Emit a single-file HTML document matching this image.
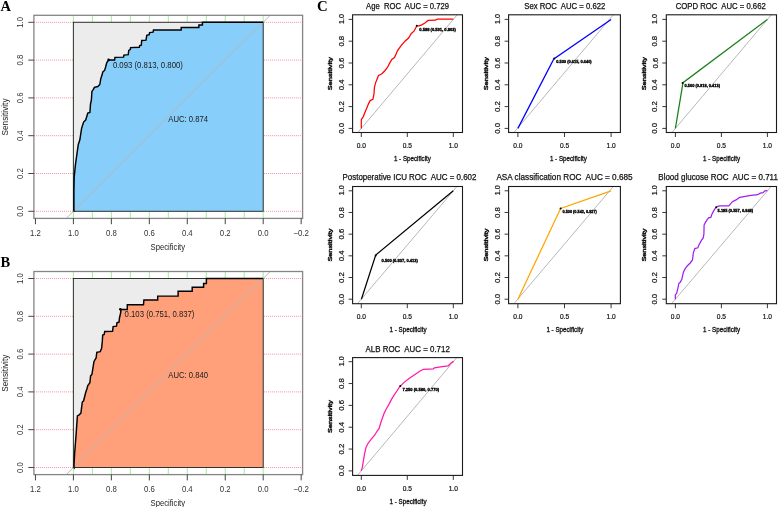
<!DOCTYPE html>
<html><head><meta charset="utf-8"><style>
html,body{margin:0;padding:0;background:#fff;}
body{width:778px;height:507px;overflow:hidden;}
svg{display:block;will-change:transform;}
text{font-family:"Liberation Sans", sans-serif;white-space:pre;}
</style></head><body>
<svg width="778" height="507" viewBox="0 0 778 507">
<rect width="778" height="507" fill="#fff"/>
<text x="0.6" y="10.9" font-size="14.5" font-weight="bold" fill="#000" style="font-family:'Liberation Serif', serif">A</text>
<line x1="33.9" y1="211.3" x2="302.6" y2="211.3" stroke="#f490a0" stroke-width="1" stroke-dasharray="1 1"/>
<line x1="33.9" y1="173.5" x2="302.6" y2="173.5" stroke="#f490a0" stroke-width="1" stroke-dasharray="1 1"/>
<line x1="33.9" y1="135.7" x2="302.6" y2="135.7" stroke="#f490a0" stroke-width="1" stroke-dasharray="1 1"/>
<line x1="33.9" y1="97.9" x2="302.6" y2="97.9" stroke="#f490a0" stroke-width="1" stroke-dasharray="1 1"/>
<line x1="33.9" y1="60.1" x2="302.6" y2="60.1" stroke="#f490a0" stroke-width="1" stroke-dasharray="1 1"/>
<line x1="33.9" y1="22.3" x2="302.6" y2="22.3" stroke="#f490a0" stroke-width="1" stroke-dasharray="1 1"/>
<line x1="263.2" y1="15.3" x2="263.2" y2="218.4" stroke="#98e898" stroke-width="0.9"/>
<line x1="244.22" y1="15.3" x2="244.22" y2="218.4" stroke="#98e898" stroke-width="0.9"/>
<line x1="225.24" y1="15.3" x2="225.24" y2="218.4" stroke="#98e898" stroke-width="0.9"/>
<line x1="206.26" y1="15.3" x2="206.26" y2="218.4" stroke="#98e898" stroke-width="0.9"/>
<line x1="187.28" y1="15.3" x2="187.28" y2="218.4" stroke="#98e898" stroke-width="0.9"/>
<line x1="168.3" y1="15.3" x2="168.3" y2="218.4" stroke="#98e898" stroke-width="0.9"/>
<line x1="149.32" y1="15.3" x2="149.32" y2="218.4" stroke="#98e898" stroke-width="0.9"/>
<line x1="130.34" y1="15.3" x2="130.34" y2="218.4" stroke="#98e898" stroke-width="0.9"/>
<line x1="111.36" y1="15.3" x2="111.36" y2="218.4" stroke="#98e898" stroke-width="0.9"/>
<line x1="92.38" y1="15.3" x2="92.38" y2="218.4" stroke="#98e898" stroke-width="0.9"/>
<line x1="73.4" y1="15.3" x2="73.4" y2="218.4" stroke="#98e898" stroke-width="0.9"/>
<rect x="73.4" y="22.3" width="189.8" height="189" fill="#ececec"/>
<polygon points="73.4,211.3 73.9,211.3 73.9,191.8 74.2,177 75.4,165.1 76.8,154.8 78.3,144.4 79.8,140 81.6,128.3 83.6,122.1 85.7,120 87.8,113.1 89.9,112.5 90.5,104.2 91.4,100 91.9,91.4 93.4,89.4 94.4,87.4 97.8,86.5 99.8,84.5 100.8,78.6 102.2,74.6 102.7,72.2 104.7,70.2 105.7,66.7 106.7,62.8 108.6,59.9 114.6,59.9 115,57.4 123.5,57.1 123.9,55.1 128.3,54.7 128.7,50.4 130.3,49.6 130.6,47.6 139.3,47.2 139.7,45.6 141.3,45.2 141.7,40.5 146,40.1 146.8,35.4 149.2,34.6 149.6,32.6 153.1,32.2 153.5,29.9 181.2,29.9 181.2,27.4 198.9,27.4 198.9,24.9 202.4,24.9 202.4,22.3 263.2,22.3 263.2,211.3" fill="#87cefa"/>
<rect x="73.4" y="22.3" width="189.8" height="189" fill="none" stroke="#333" stroke-width="1"/>
<line x1="66.27" y1="218.4" x2="270.23" y2="15.3" stroke="#b8b8b8" stroke-width="1"/>
<polyline points="73.8,211.3 73.9,211.3 73.9,191.8 74.2,177 75.4,165.1 76.8,154.8 78.3,144.4 79.8,140 81.6,128.3 83.6,122.1 85.7,120 87.8,113.1 89.9,112.5 90.5,104.2 91.4,100 91.9,91.4 93.4,89.4 94.4,87.4 97.8,86.5 99.8,84.5 100.8,78.6 102.2,74.6 102.7,72.2 104.7,70.2 105.7,66.7 106.7,62.8 108.6,59.9 114.6,59.9 115,57.4 123.5,57.1 123.9,55.1 128.3,54.7 128.7,50.4 130.3,49.6 130.6,47.6 139.3,47.2 139.7,45.6 141.3,45.2 141.7,40.5 146,40.1 146.8,35.4 149.2,34.6 149.6,32.6 153.1,32.2 153.5,29.9 181.2,29.9 181.2,27.4 198.9,27.4 198.9,24.9 202.4,24.9 202.4,22.3 263.2,22.3" fill="none" stroke="#000" stroke-width="1.45" stroke-linejoin="miter"/>
<circle cx="108.6" cy="59.9" r="1.3" fill="#000"/>
<rect x="33.9" y="15.3" width="268.7" height="203.1" fill="none" stroke="#858585" stroke-width="1.3"/>
<line x1="35.44" y1="218.4" x2="35.44" y2="224.2" stroke="#444" stroke-width="1"/>
<text x="35.44" y="236.2" font-size="8.6" text-anchor="middle" fill="#333" font-weight="normal" textLength="10.8" lengthAdjust="spacingAndGlyphs"  style="font-family:'Liberation Sans', sans-serif">1.2</text>
<line x1="73.4" y1="218.4" x2="73.4" y2="224.2" stroke="#444" stroke-width="1"/>
<text x="73.4" y="236.2" font-size="8.6" text-anchor="middle" fill="#333" font-weight="normal" textLength="10.8" lengthAdjust="spacingAndGlyphs"  style="font-family:'Liberation Sans', sans-serif">1.0</text>
<line x1="111.36" y1="218.4" x2="111.36" y2="224.2" stroke="#444" stroke-width="1"/>
<text x="111.36" y="236.2" font-size="8.6" text-anchor="middle" fill="#333" font-weight="normal" textLength="10.8" lengthAdjust="spacingAndGlyphs"  style="font-family:'Liberation Sans', sans-serif">0.8</text>
<line x1="149.32" y1="218.4" x2="149.32" y2="224.2" stroke="#444" stroke-width="1"/>
<text x="149.32" y="236.2" font-size="8.6" text-anchor="middle" fill="#333" font-weight="normal" textLength="10.8" lengthAdjust="spacingAndGlyphs"  style="font-family:'Liberation Sans', sans-serif">0.6</text>
<line x1="187.28" y1="218.4" x2="187.28" y2="224.2" stroke="#444" stroke-width="1"/>
<text x="187.28" y="236.2" font-size="8.6" text-anchor="middle" fill="#333" font-weight="normal" textLength="10.8" lengthAdjust="spacingAndGlyphs"  style="font-family:'Liberation Sans', sans-serif">0.4</text>
<line x1="225.24" y1="218.4" x2="225.24" y2="224.2" stroke="#444" stroke-width="1"/>
<text x="225.24" y="236.2" font-size="8.6" text-anchor="middle" fill="#333" font-weight="normal" textLength="10.8" lengthAdjust="spacingAndGlyphs"  style="font-family:'Liberation Sans', sans-serif">0.2</text>
<line x1="263.2" y1="218.4" x2="263.2" y2="224.2" stroke="#444" stroke-width="1"/>
<text x="263.2" y="236.2" font-size="8.6" text-anchor="middle" fill="#333" font-weight="normal" textLength="10.8" lengthAdjust="spacingAndGlyphs"  style="font-family:'Liberation Sans', sans-serif">0.0</text>
<line x1="301.16" y1="218.4" x2="301.16" y2="224.2" stroke="#444" stroke-width="1"/>
<text x="301.16" y="236.2" font-size="8.6" text-anchor="middle" fill="#333" font-weight="normal" textLength="15.6" lengthAdjust="spacingAndGlyphs"  style="font-family:'Liberation Sans', sans-serif">−0.2</text>
<line x1="28.3" y1="211.3" x2="33.9" y2="211.3" stroke="#444" stroke-width="1"/>
<text x="23.3" y="211.3" font-size="8.6" text-anchor="middle" fill="#333" font-weight="normal" transform="rotate(-90 23.3 211.3)" textLength="10.8" lengthAdjust="spacingAndGlyphs"  style="font-family:'Liberation Sans', sans-serif">0.0</text>
<line x1="28.3" y1="173.5" x2="33.9" y2="173.5" stroke="#444" stroke-width="1"/>
<text x="23.3" y="173.5" font-size="8.6" text-anchor="middle" fill="#333" font-weight="normal" transform="rotate(-90 23.3 173.5)" textLength="10.8" lengthAdjust="spacingAndGlyphs"  style="font-family:'Liberation Sans', sans-serif">0.2</text>
<line x1="28.3" y1="135.7" x2="33.9" y2="135.7" stroke="#444" stroke-width="1"/>
<text x="23.3" y="135.7" font-size="8.6" text-anchor="middle" fill="#333" font-weight="normal" transform="rotate(-90 23.3 135.7)" textLength="10.8" lengthAdjust="spacingAndGlyphs"  style="font-family:'Liberation Sans', sans-serif">0.4</text>
<line x1="28.3" y1="97.9" x2="33.9" y2="97.9" stroke="#444" stroke-width="1"/>
<text x="23.3" y="97.9" font-size="8.6" text-anchor="middle" fill="#333" font-weight="normal" transform="rotate(-90 23.3 97.9)" textLength="10.8" lengthAdjust="spacingAndGlyphs"  style="font-family:'Liberation Sans', sans-serif">0.6</text>
<line x1="28.3" y1="60.1" x2="33.9" y2="60.1" stroke="#444" stroke-width="1"/>
<text x="23.3" y="60.1" font-size="8.6" text-anchor="middle" fill="#333" font-weight="normal" transform="rotate(-90 23.3 60.1)" textLength="10.8" lengthAdjust="spacingAndGlyphs"  style="font-family:'Liberation Sans', sans-serif">0.8</text>
<line x1="28.3" y1="22.3" x2="33.9" y2="22.3" stroke="#444" stroke-width="1"/>
<text x="23.3" y="22.3" font-size="8.6" text-anchor="middle" fill="#333" font-weight="normal" transform="rotate(-90 23.3 22.3)" textLength="10.8" lengthAdjust="spacingAndGlyphs"  style="font-family:'Liberation Sans', sans-serif">1.0</text>
<text x="167.8" y="249.9" font-size="8.4" text-anchor="middle" fill="#222" font-weight="normal" textLength="34.5" lengthAdjust="spacingAndGlyphs"  style="font-family:'Liberation Sans', sans-serif">Specificity</text>
<text x="7.9" y="117" font-size="8.4" text-anchor="middle" fill="#222" font-weight="normal" transform="rotate(-90 7.9 117)" textLength="37" lengthAdjust="spacingAndGlyphs"  style="font-family:'Liberation Sans', sans-serif">Sensitivity</text>
<text x="112.9" y="67.6" font-size="8.5" text-anchor="start" fill="#1a1a1a" font-weight="normal" textLength="70" lengthAdjust="spacingAndGlyphs"  style="font-family:'Liberation Sans', sans-serif">0.093 (0.813, 0.800)</text>
<text x="168.3" y="122.1" font-size="8.5" text-anchor="start" fill="#1a1a1a" font-weight="normal" textLength="39.8" lengthAdjust="spacingAndGlyphs"  style="font-family:'Liberation Sans', sans-serif">AUC: 0.874</text>
<text x="0.6" y="267.1" font-size="14.5" font-weight="bold" fill="#000" style="font-family:'Liberation Serif', serif">B</text>
<line x1="33.9" y1="467.5" x2="302.6" y2="467.5" stroke="#f490a0" stroke-width="1" stroke-dasharray="1 1"/>
<line x1="33.9" y1="429.7" x2="302.6" y2="429.7" stroke="#f490a0" stroke-width="1" stroke-dasharray="1 1"/>
<line x1="33.9" y1="391.9" x2="302.6" y2="391.9" stroke="#f490a0" stroke-width="1" stroke-dasharray="1 1"/>
<line x1="33.9" y1="354.1" x2="302.6" y2="354.1" stroke="#f490a0" stroke-width="1" stroke-dasharray="1 1"/>
<line x1="33.9" y1="316.3" x2="302.6" y2="316.3" stroke="#f490a0" stroke-width="1" stroke-dasharray="1 1"/>
<line x1="33.9" y1="278.5" x2="302.6" y2="278.5" stroke="#f490a0" stroke-width="1" stroke-dasharray="1 1"/>
<line x1="263.2" y1="271.5" x2="263.2" y2="474.6" stroke="#98e898" stroke-width="0.9"/>
<line x1="244.22" y1="271.5" x2="244.22" y2="474.6" stroke="#98e898" stroke-width="0.9"/>
<line x1="225.24" y1="271.5" x2="225.24" y2="474.6" stroke="#98e898" stroke-width="0.9"/>
<line x1="206.26" y1="271.5" x2="206.26" y2="474.6" stroke="#98e898" stroke-width="0.9"/>
<line x1="187.28" y1="271.5" x2="187.28" y2="474.6" stroke="#98e898" stroke-width="0.9"/>
<line x1="168.3" y1="271.5" x2="168.3" y2="474.6" stroke="#98e898" stroke-width="0.9"/>
<line x1="149.32" y1="271.5" x2="149.32" y2="474.6" stroke="#98e898" stroke-width="0.9"/>
<line x1="130.34" y1="271.5" x2="130.34" y2="474.6" stroke="#98e898" stroke-width="0.9"/>
<line x1="111.36" y1="271.5" x2="111.36" y2="474.6" stroke="#98e898" stroke-width="0.9"/>
<line x1="92.38" y1="271.5" x2="92.38" y2="474.6" stroke="#98e898" stroke-width="0.9"/>
<line x1="73.4" y1="271.5" x2="73.4" y2="474.6" stroke="#98e898" stroke-width="0.9"/>
<rect x="73.4" y="278.5" width="189.8" height="189" fill="#ececec"/>
<polygon points="73.4,467.5 74,467.7 74,465 74.7,452.5 76,435.9 77.4,415.9 78.8,415.2 80.9,413.1 82.3,402 83.6,400.8 85.7,392.5 87.1,388.3 87.8,385.6 89.9,382.8 90.6,375.9 91.9,374.5 94,361.4 96.1,358 96.8,352.4 100.2,351.7 101.6,348.3 102.3,341.4 102.7,335 104.2,334.5 104.7,331.5 112.6,331.3 113.1,326.6 116.5,326.1 117,322.7 119,322.2 119.5,317.7 120.5,313.8 121,309.4 127.3,309.4 127.3,304.7 143.5,304.7 143.9,299.9 157.7,299.9 157.7,296.1 178.1,296.1 178.1,291.2 192.2,291.2 192.2,287.3 203.6,287.3 203.6,283.4 206.4,283.4 206.4,278.5 263.2,278.5 263.2,467.5" fill="#ffa07a"/>
<rect x="73.4" y="278.5" width="189.8" height="189" fill="none" stroke="#333" stroke-width="1"/>
<line x1="66.27" y1="474.6" x2="270.23" y2="271.5" stroke="#b8b8b8" stroke-width="1"/>
<polyline points="73.8,467.5 74,467.7 74,465 74.7,452.5 76,435.9 77.4,415.9 78.8,415.2 80.9,413.1 82.3,402 83.6,400.8 85.7,392.5 87.1,388.3 87.8,385.6 89.9,382.8 90.6,375.9 91.9,374.5 94,361.4 96.1,358 96.8,352.4 100.2,351.7 101.6,348.3 102.3,341.4 102.7,335 104.2,334.5 104.7,331.5 112.6,331.3 113.1,326.6 116.5,326.1 117,322.7 119,322.2 119.5,317.7 120.5,313.8 121,309.4 127.3,309.4 127.3,304.7 143.5,304.7 143.9,299.9 157.7,299.9 157.7,296.1 178.1,296.1 178.1,291.2 192.2,291.2 192.2,287.3 203.6,287.3 203.6,283.4 206.4,283.4 206.4,278.5 263.2,278.5" fill="none" stroke="#000" stroke-width="1.45" stroke-linejoin="miter"/>
<circle cx="120.3" cy="309.2" r="1.3" fill="#000"/>
<rect x="33.9" y="271.5" width="268.7" height="203.1" fill="none" stroke="#858585" stroke-width="1.3"/>
<line x1="35.44" y1="474.6" x2="35.44" y2="480.4" stroke="#444" stroke-width="1"/>
<text x="35.44" y="492.4" font-size="8.6" text-anchor="middle" fill="#333" font-weight="normal" textLength="10.8" lengthAdjust="spacingAndGlyphs"  style="font-family:'Liberation Sans', sans-serif">1.2</text>
<line x1="73.4" y1="474.6" x2="73.4" y2="480.4" stroke="#444" stroke-width="1"/>
<text x="73.4" y="492.4" font-size="8.6" text-anchor="middle" fill="#333" font-weight="normal" textLength="10.8" lengthAdjust="spacingAndGlyphs"  style="font-family:'Liberation Sans', sans-serif">1.0</text>
<line x1="111.36" y1="474.6" x2="111.36" y2="480.4" stroke="#444" stroke-width="1"/>
<text x="111.36" y="492.4" font-size="8.6" text-anchor="middle" fill="#333" font-weight="normal" textLength="10.8" lengthAdjust="spacingAndGlyphs"  style="font-family:'Liberation Sans', sans-serif">0.8</text>
<line x1="149.32" y1="474.6" x2="149.32" y2="480.4" stroke="#444" stroke-width="1"/>
<text x="149.32" y="492.4" font-size="8.6" text-anchor="middle" fill="#333" font-weight="normal" textLength="10.8" lengthAdjust="spacingAndGlyphs"  style="font-family:'Liberation Sans', sans-serif">0.6</text>
<line x1="187.28" y1="474.6" x2="187.28" y2="480.4" stroke="#444" stroke-width="1"/>
<text x="187.28" y="492.4" font-size="8.6" text-anchor="middle" fill="#333" font-weight="normal" textLength="10.8" lengthAdjust="spacingAndGlyphs"  style="font-family:'Liberation Sans', sans-serif">0.4</text>
<line x1="225.24" y1="474.6" x2="225.24" y2="480.4" stroke="#444" stroke-width="1"/>
<text x="225.24" y="492.4" font-size="8.6" text-anchor="middle" fill="#333" font-weight="normal" textLength="10.8" lengthAdjust="spacingAndGlyphs"  style="font-family:'Liberation Sans', sans-serif">0.2</text>
<line x1="263.2" y1="474.6" x2="263.2" y2="480.4" stroke="#444" stroke-width="1"/>
<text x="263.2" y="492.4" font-size="8.6" text-anchor="middle" fill="#333" font-weight="normal" textLength="10.8" lengthAdjust="spacingAndGlyphs"  style="font-family:'Liberation Sans', sans-serif">0.0</text>
<line x1="301.16" y1="474.6" x2="301.16" y2="480.4" stroke="#444" stroke-width="1"/>
<text x="301.16" y="492.4" font-size="8.6" text-anchor="middle" fill="#333" font-weight="normal" textLength="15.6" lengthAdjust="spacingAndGlyphs"  style="font-family:'Liberation Sans', sans-serif">−0.2</text>
<line x1="28.3" y1="467.5" x2="33.9" y2="467.5" stroke="#444" stroke-width="1"/>
<text x="23.3" y="467.5" font-size="8.6" text-anchor="middle" fill="#333" font-weight="normal" transform="rotate(-90 23.3 467.5)" textLength="10.8" lengthAdjust="spacingAndGlyphs"  style="font-family:'Liberation Sans', sans-serif">0.0</text>
<line x1="28.3" y1="429.7" x2="33.9" y2="429.7" stroke="#444" stroke-width="1"/>
<text x="23.3" y="429.7" font-size="8.6" text-anchor="middle" fill="#333" font-weight="normal" transform="rotate(-90 23.3 429.7)" textLength="10.8" lengthAdjust="spacingAndGlyphs"  style="font-family:'Liberation Sans', sans-serif">0.2</text>
<line x1="28.3" y1="391.9" x2="33.9" y2="391.9" stroke="#444" stroke-width="1"/>
<text x="23.3" y="391.9" font-size="8.6" text-anchor="middle" fill="#333" font-weight="normal" transform="rotate(-90 23.3 391.9)" textLength="10.8" lengthAdjust="spacingAndGlyphs"  style="font-family:'Liberation Sans', sans-serif">0.4</text>
<line x1="28.3" y1="354.1" x2="33.9" y2="354.1" stroke="#444" stroke-width="1"/>
<text x="23.3" y="354.1" font-size="8.6" text-anchor="middle" fill="#333" font-weight="normal" transform="rotate(-90 23.3 354.1)" textLength="10.8" lengthAdjust="spacingAndGlyphs"  style="font-family:'Liberation Sans', sans-serif">0.6</text>
<line x1="28.3" y1="316.3" x2="33.9" y2="316.3" stroke="#444" stroke-width="1"/>
<text x="23.3" y="316.3" font-size="8.6" text-anchor="middle" fill="#333" font-weight="normal" transform="rotate(-90 23.3 316.3)" textLength="10.8" lengthAdjust="spacingAndGlyphs"  style="font-family:'Liberation Sans', sans-serif">0.8</text>
<line x1="28.3" y1="278.5" x2="33.9" y2="278.5" stroke="#444" stroke-width="1"/>
<text x="23.3" y="278.5" font-size="8.6" text-anchor="middle" fill="#333" font-weight="normal" transform="rotate(-90 23.3 278.5)" textLength="10.8" lengthAdjust="spacingAndGlyphs"  style="font-family:'Liberation Sans', sans-serif">1.0</text>
<text x="167.8" y="506.1" font-size="8.4" text-anchor="middle" fill="#222" font-weight="normal" textLength="34.5" lengthAdjust="spacingAndGlyphs"  style="font-family:'Liberation Sans', sans-serif">Specificity</text>
<text x="7.9" y="373.2" font-size="8.4" text-anchor="middle" fill="#222" font-weight="normal" transform="rotate(-90 7.9 373.2)" textLength="37" lengthAdjust="spacingAndGlyphs"  style="font-family:'Liberation Sans', sans-serif">Sensitivity</text>
<text x="124.6" y="317.2" font-size="8.5" text-anchor="start" fill="#1a1a1a" font-weight="normal" textLength="69.8" lengthAdjust="spacingAndGlyphs"  style="font-family:'Liberation Sans', sans-serif">0.103 (0.751, 0.837)</text>
<text x="168.3" y="378.3" font-size="8.5" text-anchor="start" fill="#1a1a1a" font-weight="normal" textLength="39.8" lengthAdjust="spacingAndGlyphs"  style="font-family:'Liberation Sans', sans-serif">AUC: 0.840</text>
<text x="316.9" y="10.7" font-size="14.8" font-weight="bold" fill="#000" style="font-family:'Liberation Serif', serif">C</text>
<text x="366.1" y="8.7" font-size="8.8" text-anchor="start" fill="#111" font-weight="normal" textLength="82.9" lengthAdjust="spacingAndGlyphs" stroke="#111" stroke-width="0.25" style="font-family:'Liberation Sans', sans-serif">Age  ROC  AUC = 0.729</text>
<line x1="357.84" y1="132.5" x2="457.18" y2="14.8" stroke="#b0b0b0" stroke-width="0.9"/>
<polyline points="361.3,128.4 361.3,119.6 363.3,116.6 364.8,112.8 366.4,109 368.6,103.6 370.2,100.6 372.9,99.4 374,93.8 374.4,87.7 375.5,83.1 377,79.3 378.5,75.5 381.6,74 384.6,71 387.6,67.2 389.9,62.6 391.8,59.4 394.5,57.6 397.7,50.3 401.3,45.3 405,41.2 408.6,38 411.3,33.5 414,31.2 416.3,26.7 416.8,25.8 419,25.8 421.8,24.9 424.9,23.1 428.1,20.4 435.4,20.2 437.2,19.2 453.3,19.2" fill="none" stroke="#ff0000" stroke-width="1.25" stroke-linejoin="miter"/>
<circle cx="416.8" cy="25.8" r="1" fill="#000"/>
<text x="419.3" y="31" font-size="4.2" text-anchor="start" fill="#000" font-weight="bold" textLength="36.6" lengthAdjust="spacingAndGlyphs" stroke="#000" stroke-width="0.35" style="font-family:'Liberation Sans', sans-serif">0.588 (0.591, 0.803)</text>
<rect x="352.6" y="14.8" width="109.9" height="117.7" fill="none" stroke="#1a1a1a" stroke-width="1.1"/>
<line x1="361.3" y1="132.5" x2="361.3" y2="137" stroke="#222" stroke-width="0.9"/>
<text x="361.3" y="147.8" font-size="6.9" text-anchor="middle" fill="#111" font-weight="normal" textLength="9.2" lengthAdjust="spacingAndGlyphs" stroke="#111" stroke-width="0.2" style="font-family:'Liberation Sans', sans-serif">0.0</text>
<line x1="407.3" y1="132.5" x2="407.3" y2="137" stroke="#222" stroke-width="0.9"/>
<text x="407.3" y="147.8" font-size="6.9" text-anchor="middle" fill="#111" font-weight="normal" textLength="9.2" lengthAdjust="spacingAndGlyphs" stroke="#111" stroke-width="0.2" style="font-family:'Liberation Sans', sans-serif">0.5</text>
<line x1="453.3" y1="132.5" x2="453.3" y2="137" stroke="#222" stroke-width="0.9"/>
<text x="453.3" y="147.8" font-size="6.9" text-anchor="middle" fill="#111" font-weight="normal" textLength="9.2" lengthAdjust="spacingAndGlyphs" stroke="#111" stroke-width="0.2" style="font-family:'Liberation Sans', sans-serif">1.0</text>
<line x1="348.6" y1="128.4" x2="352.6" y2="128.4" stroke="#222" stroke-width="0.9"/>
<text x="343.8" y="128.4" font-size="6.3" text-anchor="middle" fill="#111" font-weight="normal" transform="rotate(-90 343.8 128.4)" textLength="10.8" lengthAdjust="spacingAndGlyphs" stroke="#111" stroke-width="0.2" style="font-family:'Liberation Sans', sans-serif">0.0</text>
<line x1="348.6" y1="106.6" x2="352.6" y2="106.6" stroke="#222" stroke-width="0.9"/>
<text x="343.8" y="106.6" font-size="6.3" text-anchor="middle" fill="#111" font-weight="normal" transform="rotate(-90 343.8 106.6)" textLength="10.8" lengthAdjust="spacingAndGlyphs" stroke="#111" stroke-width="0.2" style="font-family:'Liberation Sans', sans-serif">0.2</text>
<line x1="348.6" y1="84.8" x2="352.6" y2="84.8" stroke="#222" stroke-width="0.9"/>
<text x="343.8" y="84.8" font-size="6.3" text-anchor="middle" fill="#111" font-weight="normal" transform="rotate(-90 343.8 84.8)" textLength="10.8" lengthAdjust="spacingAndGlyphs" stroke="#111" stroke-width="0.2" style="font-family:'Liberation Sans', sans-serif">0.4</text>
<line x1="348.6" y1="63" x2="352.6" y2="63" stroke="#222" stroke-width="0.9"/>
<text x="343.8" y="63" font-size="6.3" text-anchor="middle" fill="#111" font-weight="normal" transform="rotate(-90 343.8 63)" textLength="10.8" lengthAdjust="spacingAndGlyphs" stroke="#111" stroke-width="0.2" style="font-family:'Liberation Sans', sans-serif">0.6</text>
<line x1="348.6" y1="41.2" x2="352.6" y2="41.2" stroke="#222" stroke-width="0.9"/>
<text x="343.8" y="41.2" font-size="6.3" text-anchor="middle" fill="#111" font-weight="normal" transform="rotate(-90 343.8 41.2)" textLength="10.8" lengthAdjust="spacingAndGlyphs" stroke="#111" stroke-width="0.2" style="font-family:'Liberation Sans', sans-serif">0.8</text>
<line x1="348.6" y1="19.4" x2="352.6" y2="19.4" stroke="#222" stroke-width="0.9"/>
<text x="343.8" y="18.9" font-size="6.3" text-anchor="middle" fill="#111" font-weight="normal" transform="rotate(-90 343.8 18.9)" textLength="10" lengthAdjust="spacingAndGlyphs" stroke="#111" stroke-width="0.2" style="font-family:'Liberation Sans', sans-serif">1.0</text>
<text x="412.4" y="161.1" font-size="6.6" text-anchor="middle" fill="#111" font-weight="normal" textLength="37" lengthAdjust="spacingAndGlyphs" stroke="#111" stroke-width="0.3" style="font-family:'Liberation Sans', sans-serif">1 - Specificity</text>
<text x="332" y="73.65" font-size="6.2" text-anchor="middle" fill="#111" font-weight="normal" transform="rotate(-90 332 73.65)" textLength="33" lengthAdjust="spacingAndGlyphs" stroke="#111" stroke-width="0.45" style="font-family:'Liberation Sans', sans-serif">Sensitivity</text>
<text x="524.3" y="8.7" font-size="8.8" text-anchor="start" fill="#111" font-weight="normal" textLength="81" lengthAdjust="spacingAndGlyphs" stroke="#111" stroke-width="0.25" style="font-family:'Liberation Sans', sans-serif">Sex ROC  AUC = 0.622</text>
<line x1="513.9" y1="132.5" x2="613.3" y2="14.8" stroke="#b0b0b0" stroke-width="0.9"/>
<polyline points="517.9,128.4 553.8,59 611.1,19.4" fill="none" stroke="#0000ff" stroke-width="1.25" stroke-linejoin="miter"/>
<circle cx="554.3" cy="58.5" r="1" fill="#000"/>
<text x="556.2" y="63" font-size="4.2" text-anchor="start" fill="#000" font-weight="bold" textLength="35.5" lengthAdjust="spacingAndGlyphs" stroke="#000" stroke-width="0.35" style="font-family:'Liberation Sans', sans-serif">0.500 (0.615, 0.640)</text>
<rect x="508.6" y="14.8" width="111.8" height="117.7" fill="none" stroke="#1a1a1a" stroke-width="1.1"/>
<line x1="517.9" y1="132.5" x2="517.9" y2="137" stroke="#222" stroke-width="0.9"/>
<text x="517.9" y="147.8" font-size="6.9" text-anchor="middle" fill="#111" font-weight="normal" textLength="9.2" lengthAdjust="spacingAndGlyphs" stroke="#111" stroke-width="0.2" style="font-family:'Liberation Sans', sans-serif">0.0</text>
<line x1="564.5" y1="132.5" x2="564.5" y2="137" stroke="#222" stroke-width="0.9"/>
<text x="564.5" y="147.8" font-size="6.9" text-anchor="middle" fill="#111" font-weight="normal" textLength="9.2" lengthAdjust="spacingAndGlyphs" stroke="#111" stroke-width="0.2" style="font-family:'Liberation Sans', sans-serif">0.5</text>
<line x1="611.1" y1="132.5" x2="611.1" y2="137" stroke="#222" stroke-width="0.9"/>
<text x="611.1" y="147.8" font-size="6.9" text-anchor="middle" fill="#111" font-weight="normal" textLength="9.2" lengthAdjust="spacingAndGlyphs" stroke="#111" stroke-width="0.2" style="font-family:'Liberation Sans', sans-serif">1.0</text>
<line x1="504.6" y1="128.4" x2="508.6" y2="128.4" stroke="#222" stroke-width="0.9"/>
<text x="499.8" y="128.4" font-size="6.3" text-anchor="middle" fill="#111" font-weight="normal" transform="rotate(-90 499.8 128.4)" textLength="10.8" lengthAdjust="spacingAndGlyphs" stroke="#111" stroke-width="0.2" style="font-family:'Liberation Sans', sans-serif">0.0</text>
<line x1="504.6" y1="106.6" x2="508.6" y2="106.6" stroke="#222" stroke-width="0.9"/>
<text x="499.8" y="106.6" font-size="6.3" text-anchor="middle" fill="#111" font-weight="normal" transform="rotate(-90 499.8 106.6)" textLength="10.8" lengthAdjust="spacingAndGlyphs" stroke="#111" stroke-width="0.2" style="font-family:'Liberation Sans', sans-serif">0.2</text>
<line x1="504.6" y1="84.8" x2="508.6" y2="84.8" stroke="#222" stroke-width="0.9"/>
<text x="499.8" y="84.8" font-size="6.3" text-anchor="middle" fill="#111" font-weight="normal" transform="rotate(-90 499.8 84.8)" textLength="10.8" lengthAdjust="spacingAndGlyphs" stroke="#111" stroke-width="0.2" style="font-family:'Liberation Sans', sans-serif">0.4</text>
<line x1="504.6" y1="63" x2="508.6" y2="63" stroke="#222" stroke-width="0.9"/>
<text x="499.8" y="63" font-size="6.3" text-anchor="middle" fill="#111" font-weight="normal" transform="rotate(-90 499.8 63)" textLength="10.8" lengthAdjust="spacingAndGlyphs" stroke="#111" stroke-width="0.2" style="font-family:'Liberation Sans', sans-serif">0.6</text>
<line x1="504.6" y1="41.2" x2="508.6" y2="41.2" stroke="#222" stroke-width="0.9"/>
<text x="499.8" y="41.2" font-size="6.3" text-anchor="middle" fill="#111" font-weight="normal" transform="rotate(-90 499.8 41.2)" textLength="10.8" lengthAdjust="spacingAndGlyphs" stroke="#111" stroke-width="0.2" style="font-family:'Liberation Sans', sans-serif">0.8</text>
<line x1="504.6" y1="19.4" x2="508.6" y2="19.4" stroke="#222" stroke-width="0.9"/>
<text x="499.8" y="18.9" font-size="6.3" text-anchor="middle" fill="#111" font-weight="normal" transform="rotate(-90 499.8 18.9)" textLength="10" lengthAdjust="spacingAndGlyphs" stroke="#111" stroke-width="0.2" style="font-family:'Liberation Sans', sans-serif">1.0</text>
<text x="568.4" y="161.1" font-size="6.6" text-anchor="middle" fill="#111" font-weight="normal" textLength="37" lengthAdjust="spacingAndGlyphs" stroke="#111" stroke-width="0.3" style="font-family:'Liberation Sans', sans-serif">1 - Specificity</text>
<text x="488" y="73.65" font-size="6.2" text-anchor="middle" fill="#111" font-weight="normal" transform="rotate(-90 488 73.65)" textLength="33" lengthAdjust="spacingAndGlyphs" stroke="#111" stroke-width="0.45" style="font-family:'Liberation Sans', sans-serif">Sensitivity</text>
<text x="675.7" y="8.7" font-size="8.8" text-anchor="start" fill="#111" font-weight="normal" textLength="90.1" lengthAdjust="spacingAndGlyphs" stroke="#111" stroke-width="0.25" style="font-family:'Liberation Sans', sans-serif">COPD ROC  AUC = 0.662</text>
<line x1="671.94" y1="132.5" x2="771.28" y2="14.8" stroke="#b0b0b0" stroke-width="0.9"/>
<polyline points="675.4,128.4 683,82.7 767.4,19.4" fill="none" stroke="#1a7f1a" stroke-width="1.25" stroke-linejoin="miter"/>
<circle cx="682.6" cy="83.1" r="1" fill="#000"/>
<text x="684.5" y="86.6" font-size="4.2" text-anchor="start" fill="#000" font-weight="bold" textLength="35.5" lengthAdjust="spacingAndGlyphs" stroke="#000" stroke-width="0.35" style="font-family:'Liberation Sans', sans-serif">0.500 (0.918, 0.413)</text>
<rect x="666.3" y="14.8" width="110.2" height="117.7" fill="none" stroke="#1a1a1a" stroke-width="1.1"/>
<line x1="675.4" y1="132.5" x2="675.4" y2="137" stroke="#222" stroke-width="0.9"/>
<text x="675.4" y="147.8" font-size="6.9" text-anchor="middle" fill="#111" font-weight="normal" textLength="9.2" lengthAdjust="spacingAndGlyphs" stroke="#111" stroke-width="0.2" style="font-family:'Liberation Sans', sans-serif">0.0</text>
<line x1="721.4" y1="132.5" x2="721.4" y2="137" stroke="#222" stroke-width="0.9"/>
<text x="721.4" y="147.8" font-size="6.9" text-anchor="middle" fill="#111" font-weight="normal" textLength="9.2" lengthAdjust="spacingAndGlyphs" stroke="#111" stroke-width="0.2" style="font-family:'Liberation Sans', sans-serif">0.5</text>
<line x1="767.4" y1="132.5" x2="767.4" y2="137" stroke="#222" stroke-width="0.9"/>
<text x="767.4" y="147.8" font-size="6.9" text-anchor="middle" fill="#111" font-weight="normal" textLength="9.2" lengthAdjust="spacingAndGlyphs" stroke="#111" stroke-width="0.2" style="font-family:'Liberation Sans', sans-serif">1.0</text>
<line x1="662.3" y1="128.4" x2="666.3" y2="128.4" stroke="#222" stroke-width="0.9"/>
<text x="657.5" y="128.4" font-size="6.3" text-anchor="middle" fill="#111" font-weight="normal" transform="rotate(-90 657.5 128.4)" textLength="10.8" lengthAdjust="spacingAndGlyphs" stroke="#111" stroke-width="0.2" style="font-family:'Liberation Sans', sans-serif">0.0</text>
<line x1="662.3" y1="106.6" x2="666.3" y2="106.6" stroke="#222" stroke-width="0.9"/>
<text x="657.5" y="106.6" font-size="6.3" text-anchor="middle" fill="#111" font-weight="normal" transform="rotate(-90 657.5 106.6)" textLength="10.8" lengthAdjust="spacingAndGlyphs" stroke="#111" stroke-width="0.2" style="font-family:'Liberation Sans', sans-serif">0.2</text>
<line x1="662.3" y1="84.8" x2="666.3" y2="84.8" stroke="#222" stroke-width="0.9"/>
<text x="657.5" y="84.8" font-size="6.3" text-anchor="middle" fill="#111" font-weight="normal" transform="rotate(-90 657.5 84.8)" textLength="10.8" lengthAdjust="spacingAndGlyphs" stroke="#111" stroke-width="0.2" style="font-family:'Liberation Sans', sans-serif">0.4</text>
<line x1="662.3" y1="63" x2="666.3" y2="63" stroke="#222" stroke-width="0.9"/>
<text x="657.5" y="63" font-size="6.3" text-anchor="middle" fill="#111" font-weight="normal" transform="rotate(-90 657.5 63)" textLength="10.8" lengthAdjust="spacingAndGlyphs" stroke="#111" stroke-width="0.2" style="font-family:'Liberation Sans', sans-serif">0.6</text>
<line x1="662.3" y1="41.2" x2="666.3" y2="41.2" stroke="#222" stroke-width="0.9"/>
<text x="657.5" y="41.2" font-size="6.3" text-anchor="middle" fill="#111" font-weight="normal" transform="rotate(-90 657.5 41.2)" textLength="10.8" lengthAdjust="spacingAndGlyphs" stroke="#111" stroke-width="0.2" style="font-family:'Liberation Sans', sans-serif">0.8</text>
<line x1="662.3" y1="19.4" x2="666.3" y2="19.4" stroke="#222" stroke-width="0.9"/>
<text x="657.5" y="18.9" font-size="6.3" text-anchor="middle" fill="#111" font-weight="normal" transform="rotate(-90 657.5 18.9)" textLength="10" lengthAdjust="spacingAndGlyphs" stroke="#111" stroke-width="0.2" style="font-family:'Liberation Sans', sans-serif">1.0</text>
<text x="721.6" y="161.1" font-size="6.6" text-anchor="middle" fill="#111" font-weight="normal" textLength="37" lengthAdjust="spacingAndGlyphs" stroke="#111" stroke-width="0.3" style="font-family:'Liberation Sans', sans-serif">1 - Specificity</text>
<text x="645.7" y="73.65" font-size="6.2" text-anchor="middle" fill="#111" font-weight="normal" transform="rotate(-90 645.7 73.65)" textLength="33" lengthAdjust="spacingAndGlyphs" stroke="#111" stroke-width="0.45" style="font-family:'Liberation Sans', sans-serif">Sensitivity</text>
<text x="342.5" y="180.4" font-size="8.8" text-anchor="start" fill="#111" font-weight="normal" textLength="133.9" lengthAdjust="spacingAndGlyphs" stroke="#111" stroke-width="0.25" style="font-family:'Liberation Sans', sans-serif">Postoperative ICU ROC  AUC = 0.602</text>
<line x1="357.48" y1="303.7" x2="456.95" y2="186.5" stroke="#b0b0b0" stroke-width="0.9"/>
<polyline points="361.4,299.2 375.7,255.1 453.3,190.8" fill="none" stroke="#000000" stroke-width="1.25" stroke-linejoin="miter"/>
<circle cx="375.7" cy="255.5" r="1" fill="#000"/>
<text x="381.6" y="262.2" font-size="4.2" text-anchor="start" fill="#000" font-weight="bold" textLength="36.2" lengthAdjust="spacingAndGlyphs" stroke="#000" stroke-width="0.35" style="font-family:'Liberation Sans', sans-serif">0.500 (0.837, 0.413)</text>
<rect x="352.6" y="186.5" width="109.9" height="117.2" fill="none" stroke="#1a1a1a" stroke-width="1.1"/>
<line x1="361.3" y1="303.7" x2="361.3" y2="308.2" stroke="#222" stroke-width="0.9"/>
<text x="361.3" y="319" font-size="6.9" text-anchor="middle" fill="#111" font-weight="normal" textLength="9.2" lengthAdjust="spacingAndGlyphs" stroke="#111" stroke-width="0.2" style="font-family:'Liberation Sans', sans-serif">0.0</text>
<line x1="407.3" y1="303.7" x2="407.3" y2="308.2" stroke="#222" stroke-width="0.9"/>
<text x="407.3" y="319" font-size="6.9" text-anchor="middle" fill="#111" font-weight="normal" textLength="9.2" lengthAdjust="spacingAndGlyphs" stroke="#111" stroke-width="0.2" style="font-family:'Liberation Sans', sans-serif">0.5</text>
<line x1="453.3" y1="303.7" x2="453.3" y2="308.2" stroke="#222" stroke-width="0.9"/>
<text x="453.3" y="319" font-size="6.9" text-anchor="middle" fill="#111" font-weight="normal" textLength="9.2" lengthAdjust="spacingAndGlyphs" stroke="#111" stroke-width="0.2" style="font-family:'Liberation Sans', sans-serif">1.0</text>
<line x1="348.6" y1="299.2" x2="352.6" y2="299.2" stroke="#222" stroke-width="0.9"/>
<text x="343.8" y="299.2" font-size="6.3" text-anchor="middle" fill="#111" font-weight="normal" transform="rotate(-90 343.8 299.2)" textLength="10.8" lengthAdjust="spacingAndGlyphs" stroke="#111" stroke-width="0.2" style="font-family:'Liberation Sans', sans-serif">0.0</text>
<line x1="348.6" y1="277.52" x2="352.6" y2="277.52" stroke="#222" stroke-width="0.9"/>
<text x="343.8" y="277.52" font-size="6.3" text-anchor="middle" fill="#111" font-weight="normal" transform="rotate(-90 343.8 277.52)" textLength="10.8" lengthAdjust="spacingAndGlyphs" stroke="#111" stroke-width="0.2" style="font-family:'Liberation Sans', sans-serif">0.2</text>
<line x1="348.6" y1="255.84" x2="352.6" y2="255.84" stroke="#222" stroke-width="0.9"/>
<text x="343.8" y="255.84" font-size="6.3" text-anchor="middle" fill="#111" font-weight="normal" transform="rotate(-90 343.8 255.84)" textLength="10.8" lengthAdjust="spacingAndGlyphs" stroke="#111" stroke-width="0.2" style="font-family:'Liberation Sans', sans-serif">0.4</text>
<line x1="348.6" y1="234.16" x2="352.6" y2="234.16" stroke="#222" stroke-width="0.9"/>
<text x="343.8" y="234.16" font-size="6.3" text-anchor="middle" fill="#111" font-weight="normal" transform="rotate(-90 343.8 234.16)" textLength="10.8" lengthAdjust="spacingAndGlyphs" stroke="#111" stroke-width="0.2" style="font-family:'Liberation Sans', sans-serif">0.6</text>
<line x1="348.6" y1="212.48" x2="352.6" y2="212.48" stroke="#222" stroke-width="0.9"/>
<text x="343.8" y="212.48" font-size="6.3" text-anchor="middle" fill="#111" font-weight="normal" transform="rotate(-90 343.8 212.48)" textLength="10.8" lengthAdjust="spacingAndGlyphs" stroke="#111" stroke-width="0.2" style="font-family:'Liberation Sans', sans-serif">0.8</text>
<line x1="348.6" y1="190.8" x2="352.6" y2="190.8" stroke="#222" stroke-width="0.9"/>
<text x="343.8" y="190.3" font-size="6.3" text-anchor="middle" fill="#111" font-weight="normal" transform="rotate(-90 343.8 190.3)" textLength="10" lengthAdjust="spacingAndGlyphs" stroke="#111" stroke-width="0.2" style="font-family:'Liberation Sans', sans-serif">1.0</text>
<text x="408.1" y="332.3" font-size="6.6" text-anchor="middle" fill="#111" font-weight="normal" textLength="37" lengthAdjust="spacingAndGlyphs" stroke="#111" stroke-width="0.3" style="font-family:'Liberation Sans', sans-serif">1 - Specificity</text>
<text x="332" y="245.1" font-size="6.2" text-anchor="middle" fill="#111" font-weight="normal" transform="rotate(-90 332 245.1)" textLength="33" lengthAdjust="spacingAndGlyphs" stroke="#111" stroke-width="0.45" style="font-family:'Liberation Sans', sans-serif">Sensitivity</text>
<text x="496.4" y="180.4" font-size="8.8" text-anchor="start" fill="#111" font-weight="normal" textLength="136.2" lengthAdjust="spacingAndGlyphs" stroke="#111" stroke-width="0.25" style="font-family:'Liberation Sans', sans-serif">ASA classification ROC  AUC = 0.685</text>
<line x1="513.9" y1="303.7" x2="613.3" y2="186.5" stroke="#b0b0b0" stroke-width="0.9"/>
<polyline points="517.9,299.2 560.6,208.5 611.1,190.8" fill="none" stroke="#ffa500" stroke-width="1.25" stroke-linejoin="miter"/>
<circle cx="560.6" cy="208.5" r="1" fill="#000"/>
<text x="562.5" y="213.2" font-size="4.2" text-anchor="start" fill="#000" font-weight="bold" textLength="34.3" lengthAdjust="spacingAndGlyphs" stroke="#000" stroke-width="0.35" style="font-family:'Liberation Sans', sans-serif">0.500 (0.542, 0.827)</text>
<rect x="508.6" y="186.5" width="111.8" height="117.2" fill="none" stroke="#1a1a1a" stroke-width="1.1"/>
<line x1="517.9" y1="303.7" x2="517.9" y2="308.2" stroke="#222" stroke-width="0.9"/>
<text x="517.9" y="319" font-size="6.9" text-anchor="middle" fill="#111" font-weight="normal" textLength="9.2" lengthAdjust="spacingAndGlyphs" stroke="#111" stroke-width="0.2" style="font-family:'Liberation Sans', sans-serif">0.0</text>
<line x1="564.5" y1="303.7" x2="564.5" y2="308.2" stroke="#222" stroke-width="0.9"/>
<text x="564.5" y="319" font-size="6.9" text-anchor="middle" fill="#111" font-weight="normal" textLength="9.2" lengthAdjust="spacingAndGlyphs" stroke="#111" stroke-width="0.2" style="font-family:'Liberation Sans', sans-serif">0.5</text>
<line x1="611.1" y1="303.7" x2="611.1" y2="308.2" stroke="#222" stroke-width="0.9"/>
<text x="611.1" y="319" font-size="6.9" text-anchor="middle" fill="#111" font-weight="normal" textLength="9.2" lengthAdjust="spacingAndGlyphs" stroke="#111" stroke-width="0.2" style="font-family:'Liberation Sans', sans-serif">1.0</text>
<line x1="504.6" y1="299.2" x2="508.6" y2="299.2" stroke="#222" stroke-width="0.9"/>
<text x="499.8" y="299.2" font-size="6.3" text-anchor="middle" fill="#111" font-weight="normal" transform="rotate(-90 499.8 299.2)" textLength="10.8" lengthAdjust="spacingAndGlyphs" stroke="#111" stroke-width="0.2" style="font-family:'Liberation Sans', sans-serif">0.0</text>
<line x1="504.6" y1="277.52" x2="508.6" y2="277.52" stroke="#222" stroke-width="0.9"/>
<text x="499.8" y="277.52" font-size="6.3" text-anchor="middle" fill="#111" font-weight="normal" transform="rotate(-90 499.8 277.52)" textLength="10.8" lengthAdjust="spacingAndGlyphs" stroke="#111" stroke-width="0.2" style="font-family:'Liberation Sans', sans-serif">0.2</text>
<line x1="504.6" y1="255.84" x2="508.6" y2="255.84" stroke="#222" stroke-width="0.9"/>
<text x="499.8" y="255.84" font-size="6.3" text-anchor="middle" fill="#111" font-weight="normal" transform="rotate(-90 499.8 255.84)" textLength="10.8" lengthAdjust="spacingAndGlyphs" stroke="#111" stroke-width="0.2" style="font-family:'Liberation Sans', sans-serif">0.4</text>
<line x1="504.6" y1="234.16" x2="508.6" y2="234.16" stroke="#222" stroke-width="0.9"/>
<text x="499.8" y="234.16" font-size="6.3" text-anchor="middle" fill="#111" font-weight="normal" transform="rotate(-90 499.8 234.16)" textLength="10.8" lengthAdjust="spacingAndGlyphs" stroke="#111" stroke-width="0.2" style="font-family:'Liberation Sans', sans-serif">0.6</text>
<line x1="504.6" y1="212.48" x2="508.6" y2="212.48" stroke="#222" stroke-width="0.9"/>
<text x="499.8" y="212.48" font-size="6.3" text-anchor="middle" fill="#111" font-weight="normal" transform="rotate(-90 499.8 212.48)" textLength="10.8" lengthAdjust="spacingAndGlyphs" stroke="#111" stroke-width="0.2" style="font-family:'Liberation Sans', sans-serif">0.8</text>
<line x1="504.6" y1="190.8" x2="508.6" y2="190.8" stroke="#222" stroke-width="0.9"/>
<text x="499.8" y="190.3" font-size="6.3" text-anchor="middle" fill="#111" font-weight="normal" transform="rotate(-90 499.8 190.3)" textLength="10" lengthAdjust="spacingAndGlyphs" stroke="#111" stroke-width="0.2" style="font-family:'Liberation Sans', sans-serif">1.0</text>
<text x="564.9" y="332.3" font-size="6.6" text-anchor="middle" fill="#111" font-weight="normal" textLength="37" lengthAdjust="spacingAndGlyphs" stroke="#111" stroke-width="0.3" style="font-family:'Liberation Sans', sans-serif">1 - Specificity</text>
<text x="488" y="245.1" font-size="6.2" text-anchor="middle" fill="#111" font-weight="normal" transform="rotate(-90 488 245.1)" textLength="33" lengthAdjust="spacingAndGlyphs" stroke="#111" stroke-width="0.45" style="font-family:'Liberation Sans', sans-serif">Sensitivity</text>
<text x="658.3" y="180.4" font-size="8.8" text-anchor="start" fill="#111" font-weight="normal" textLength="119.6" lengthAdjust="spacingAndGlyphs" stroke="#111" stroke-width="0.25" style="font-family:'Liberation Sans', sans-serif">Blood glucose ROC  AUC = 0.711</text>
<line x1="671.58" y1="303.7" x2="771.05" y2="186.5" stroke="#b0b0b0" stroke-width="0.9"/>
<polyline points="675.4,299.2 675.3,294.9 676.6,293.4 677.8,288.8 678.8,283.5 680.4,282 681.9,279 683.4,272.1 684.9,269.1 687.2,266 690.2,263 692.5,260 693.3,253.1 694.8,248.6 697.8,247.8 699.4,244 701.6,240.2 703.2,237.9 703.9,234.1 704.1,225.1 705.4,222.4 707.2,219.7 708.6,217.9 710.8,217.4 711.7,214.7 713.5,211.1 714.9,208.9 717.1,206.6 719.8,205.9 728.8,205.9 732.4,201.7 736,199.9 739.6,197.4 744.1,196.7 745,196.3 751.3,195.4 757.6,194.7 760.3,193.1 763,192.7 764.8,190.9 767.4,190.6" fill="none" stroke="#a020f0" stroke-width="1.25" stroke-linejoin="miter"/>
<circle cx="716.2" cy="207.3" r="1" fill="#000"/>
<text x="717.6" y="212" font-size="4.2" text-anchor="start" fill="#000" font-weight="bold" textLength="35.5" lengthAdjust="spacingAndGlyphs" stroke="#000" stroke-width="0.35" style="font-family:'Liberation Sans', sans-serif">5.185 (0.557, 0.848)</text>
<rect x="666.3" y="186.5" width="110.2" height="117.2" fill="none" stroke="#1a1a1a" stroke-width="1.1"/>
<line x1="675.4" y1="303.7" x2="675.4" y2="308.2" stroke="#222" stroke-width="0.9"/>
<text x="675.4" y="319" font-size="6.9" text-anchor="middle" fill="#111" font-weight="normal" textLength="9.2" lengthAdjust="spacingAndGlyphs" stroke="#111" stroke-width="0.2" style="font-family:'Liberation Sans', sans-serif">0.0</text>
<line x1="721.4" y1="303.7" x2="721.4" y2="308.2" stroke="#222" stroke-width="0.9"/>
<text x="721.4" y="319" font-size="6.9" text-anchor="middle" fill="#111" font-weight="normal" textLength="9.2" lengthAdjust="spacingAndGlyphs" stroke="#111" stroke-width="0.2" style="font-family:'Liberation Sans', sans-serif">0.5</text>
<line x1="767.4" y1="303.7" x2="767.4" y2="308.2" stroke="#222" stroke-width="0.9"/>
<text x="767.4" y="319" font-size="6.9" text-anchor="middle" fill="#111" font-weight="normal" textLength="9.2" lengthAdjust="spacingAndGlyphs" stroke="#111" stroke-width="0.2" style="font-family:'Liberation Sans', sans-serif">1.0</text>
<line x1="662.3" y1="299.2" x2="666.3" y2="299.2" stroke="#222" stroke-width="0.9"/>
<text x="657.5" y="299.2" font-size="6.3" text-anchor="middle" fill="#111" font-weight="normal" transform="rotate(-90 657.5 299.2)" textLength="10.8" lengthAdjust="spacingAndGlyphs" stroke="#111" stroke-width="0.2" style="font-family:'Liberation Sans', sans-serif">0.0</text>
<line x1="662.3" y1="277.52" x2="666.3" y2="277.52" stroke="#222" stroke-width="0.9"/>
<text x="657.5" y="277.52" font-size="6.3" text-anchor="middle" fill="#111" font-weight="normal" transform="rotate(-90 657.5 277.52)" textLength="10.8" lengthAdjust="spacingAndGlyphs" stroke="#111" stroke-width="0.2" style="font-family:'Liberation Sans', sans-serif">0.2</text>
<line x1="662.3" y1="255.84" x2="666.3" y2="255.84" stroke="#222" stroke-width="0.9"/>
<text x="657.5" y="255.84" font-size="6.3" text-anchor="middle" fill="#111" font-weight="normal" transform="rotate(-90 657.5 255.84)" textLength="10.8" lengthAdjust="spacingAndGlyphs" stroke="#111" stroke-width="0.2" style="font-family:'Liberation Sans', sans-serif">0.4</text>
<line x1="662.3" y1="234.16" x2="666.3" y2="234.16" stroke="#222" stroke-width="0.9"/>
<text x="657.5" y="234.16" font-size="6.3" text-anchor="middle" fill="#111" font-weight="normal" transform="rotate(-90 657.5 234.16)" textLength="10.8" lengthAdjust="spacingAndGlyphs" stroke="#111" stroke-width="0.2" style="font-family:'Liberation Sans', sans-serif">0.6</text>
<line x1="662.3" y1="212.48" x2="666.3" y2="212.48" stroke="#222" stroke-width="0.9"/>
<text x="657.5" y="212.48" font-size="6.3" text-anchor="middle" fill="#111" font-weight="normal" transform="rotate(-90 657.5 212.48)" textLength="10.8" lengthAdjust="spacingAndGlyphs" stroke="#111" stroke-width="0.2" style="font-family:'Liberation Sans', sans-serif">0.8</text>
<line x1="662.3" y1="190.8" x2="666.3" y2="190.8" stroke="#222" stroke-width="0.9"/>
<text x="657.5" y="190.3" font-size="6.3" text-anchor="middle" fill="#111" font-weight="normal" transform="rotate(-90 657.5 190.3)" textLength="10" lengthAdjust="spacingAndGlyphs" stroke="#111" stroke-width="0.2" style="font-family:'Liberation Sans', sans-serif">1.0</text>
<text x="721.6" y="332.3" font-size="6.6" text-anchor="middle" fill="#111" font-weight="normal" textLength="37" lengthAdjust="spacingAndGlyphs" stroke="#111" stroke-width="0.3" style="font-family:'Liberation Sans', sans-serif">1 - Specificity</text>
<text x="645.7" y="245.1" font-size="6.2" text-anchor="middle" fill="#111" font-weight="normal" transform="rotate(-90 645.7 245.1)" textLength="33" lengthAdjust="spacingAndGlyphs" stroke="#111" stroke-width="0.45" style="font-family:'Liberation Sans', sans-serif">Sensitivity</text>
<text x="365.6" y="351.5" font-size="8.8" text-anchor="start" fill="#111" font-weight="normal" textLength="84.2" lengthAdjust="spacingAndGlyphs" stroke="#111" stroke-width="0.25" style="font-family:'Liberation Sans', sans-serif">ALB ROC  AUC = 0.712</text>
<line x1="357.51" y1="475.4" x2="456.75" y2="357.6" stroke="#b0b0b0" stroke-width="0.9"/>
<polyline points="361.1,470.9 362.4,467.1 363.5,459.8 364.6,453.9 366,447.4 368.2,443 371.1,439.4 374.8,435 377,431.3 379.1,428.4 380.6,423.3 382.1,419 384.2,413.1 386.4,408.7 389.3,403.6 391.5,399.4 393.9,395.4 396.9,391 399.8,386.6 403.8,382.6 408.7,378.7 414.6,374.7 420.5,370.8 423.5,369.3 433.4,368.8 434.4,367.8 442.2,366.6 448.2,365.8 451.1,362.9 453.6,361.4" fill="none" stroke="#ff1aa8" stroke-width="1.25" stroke-linejoin="miter"/>
<circle cx="400.3" cy="386.1" r="1" fill="#000"/>
<text x="402.4" y="390.6" font-size="4.2" text-anchor="start" fill="#000" font-weight="bold" textLength="36.7" lengthAdjust="spacingAndGlyphs" stroke="#000" stroke-width="0.35" style="font-family:'Liberation Sans', sans-serif">7.250 (0.580, 0.770)</text>
<rect x="352.6" y="357.6" width="109.9" height="117.8" fill="none" stroke="#1a1a1a" stroke-width="1.1"/>
<line x1="361.3" y1="475.4" x2="361.3" y2="479.9" stroke="#222" stroke-width="0.9"/>
<text x="361.3" y="490.7" font-size="6.9" text-anchor="middle" fill="#111" font-weight="normal" textLength="9.2" lengthAdjust="spacingAndGlyphs" stroke="#111" stroke-width="0.2" style="font-family:'Liberation Sans', sans-serif">0.0</text>
<line x1="407.3" y1="475.4" x2="407.3" y2="479.9" stroke="#222" stroke-width="0.9"/>
<text x="407.3" y="490.7" font-size="6.9" text-anchor="middle" fill="#111" font-weight="normal" textLength="9.2" lengthAdjust="spacingAndGlyphs" stroke="#111" stroke-width="0.2" style="font-family:'Liberation Sans', sans-serif">0.5</text>
<line x1="453.3" y1="475.4" x2="453.3" y2="479.9" stroke="#222" stroke-width="0.9"/>
<text x="453.3" y="490.7" font-size="6.9" text-anchor="middle" fill="#111" font-weight="normal" textLength="9.2" lengthAdjust="spacingAndGlyphs" stroke="#111" stroke-width="0.2" style="font-family:'Liberation Sans', sans-serif">1.0</text>
<line x1="348.6" y1="470.9" x2="352.6" y2="470.9" stroke="#222" stroke-width="0.9"/>
<text x="343.8" y="470.9" font-size="6.3" text-anchor="middle" fill="#111" font-weight="normal" transform="rotate(-90 343.8 470.9)" textLength="10.8" lengthAdjust="spacingAndGlyphs" stroke="#111" stroke-width="0.2" style="font-family:'Liberation Sans', sans-serif">0.0</text>
<line x1="348.6" y1="449.06" x2="352.6" y2="449.06" stroke="#222" stroke-width="0.9"/>
<text x="343.8" y="449.06" font-size="6.3" text-anchor="middle" fill="#111" font-weight="normal" transform="rotate(-90 343.8 449.06)" textLength="10.8" lengthAdjust="spacingAndGlyphs" stroke="#111" stroke-width="0.2" style="font-family:'Liberation Sans', sans-serif">0.2</text>
<line x1="348.6" y1="427.22" x2="352.6" y2="427.22" stroke="#222" stroke-width="0.9"/>
<text x="343.8" y="427.22" font-size="6.3" text-anchor="middle" fill="#111" font-weight="normal" transform="rotate(-90 343.8 427.22)" textLength="10.8" lengthAdjust="spacingAndGlyphs" stroke="#111" stroke-width="0.2" style="font-family:'Liberation Sans', sans-serif">0.4</text>
<line x1="348.6" y1="405.38" x2="352.6" y2="405.38" stroke="#222" stroke-width="0.9"/>
<text x="343.8" y="405.38" font-size="6.3" text-anchor="middle" fill="#111" font-weight="normal" transform="rotate(-90 343.8 405.38)" textLength="10.8" lengthAdjust="spacingAndGlyphs" stroke="#111" stroke-width="0.2" style="font-family:'Liberation Sans', sans-serif">0.6</text>
<line x1="348.6" y1="383.54" x2="352.6" y2="383.54" stroke="#222" stroke-width="0.9"/>
<text x="343.8" y="383.54" font-size="6.3" text-anchor="middle" fill="#111" font-weight="normal" transform="rotate(-90 343.8 383.54)" textLength="10.8" lengthAdjust="spacingAndGlyphs" stroke="#111" stroke-width="0.2" style="font-family:'Liberation Sans', sans-serif">0.8</text>
<line x1="348.6" y1="361.7" x2="352.6" y2="361.7" stroke="#222" stroke-width="0.9"/>
<text x="343.8" y="361.2" font-size="6.3" text-anchor="middle" fill="#111" font-weight="normal" transform="rotate(-90 343.8 361.2)" textLength="10" lengthAdjust="spacingAndGlyphs" stroke="#111" stroke-width="0.2" style="font-family:'Liberation Sans', sans-serif">1.0</text>
<text x="408.1" y="504" font-size="6.6" text-anchor="middle" fill="#111" font-weight="normal" textLength="37" lengthAdjust="spacingAndGlyphs" stroke="#111" stroke-width="0.3" style="font-family:'Liberation Sans', sans-serif">1 - Specificity</text>
<text x="332" y="416.5" font-size="6.2" text-anchor="middle" fill="#111" font-weight="normal" transform="rotate(-90 332 416.5)" textLength="33" lengthAdjust="spacingAndGlyphs" stroke="#111" stroke-width="0.45" style="font-family:'Liberation Sans', sans-serif">Sensitivity</text>
</svg>
</body></html>
